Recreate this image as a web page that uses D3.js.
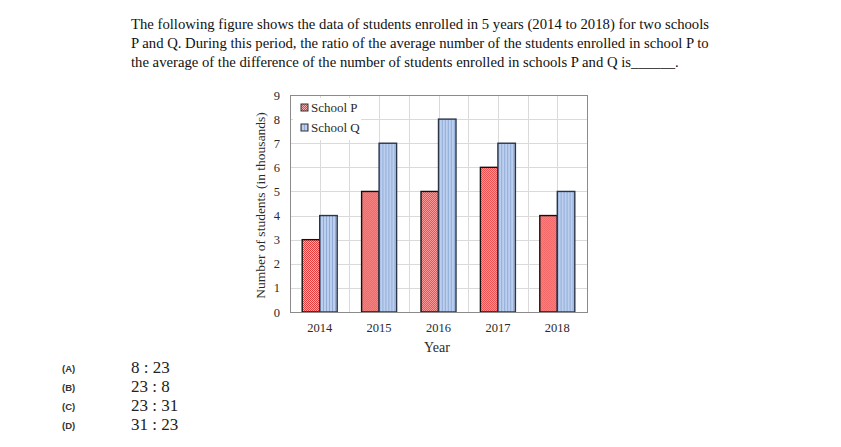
<!DOCTYPE html>
<html lang="en">
  <head>
    <meta charset="utf-8">
    <title>Students enrolled</title>
    <script type="text/javascript" src="https://cdn.jsdelivr.net/npm/d3@7"></script>
    <style>
      body { margin: 0; background: #fff; }
    </style>
  </head>
  <body>
    <script type="text/javascript">
    // data
    var years = ["2014", "2015", "2016", "2017", "2018"];
    var schoolP = [3, 5, 5, 6, 4];
    var schoolQ = [4, 7, 8, 7, 5];
    var yTicks = [0, 1, 2, 3, 4, 5, 6, 7, 8, 9];
    var seriesNames = ["School P", "School Q"];

    var questionLines = [
      "The following figure shows the data of students enrolled in 5 years (2014 to 2018) for two schools",
      "P and Q. During this period, the ratio of the average number of the students enrolled in school P to",
      "the average of the difference of the number of students enrolled in schools P and Q is______."
    ];
    var optionLetters = ["(A)", "(B)", "(C)", "(D)"];
    var optionTexts = ["8 : 23", "23 : 8", "23 : 31", "31 : 23"];

    var w = 841;
    var h = 447;

    var svg = d3.select("body")
                .append("svg")
                .attr("width", w)
                .attr("height", h);

    // fill patterns
    var defs = svg.append("defs");
    var pP = defs.append("pattern")
                 .attr("id", "patP")
                 .attr("patternUnits", "userSpaceOnUse")
                 .attr("width", 2).attr("height", 2);
    pP.append("rect").attr("width", 2).attr("height", 2).attr("fill", "#ffb0b0");
    pP.append("rect").attr("width", 1).attr("height", 1).attr("fill", "#e83a3a");
    pP.append("rect").attr("x", 1).attr("y", 1).attr("width", 1).attr("height", 1).attr("fill", "#e83a3a");

    var pQ = defs.append("pattern")
                 .attr("id", "patQ")
                 .attr("patternUnits", "userSpaceOnUse")
                 .attr("width", 3).attr("height", 3);
    pQ.append("rect").attr("width", 3).attr("height", 3).attr("fill", "#bccfee");
    pQ.append("rect").attr("width", 1).attr("height", 3).attr("fill", "#92acd8");

    // question text
    svg.selectAll("text.q")
       .data(questionLines)
       .enter()
       .append("text")
       .attr("class", "q")
       .attr("x", 131)
       .attr("y", function(d, i) { return 29 + i * 19; })
       .attr("font-family", "Liberation Serif, serif")
       .attr("font-size", 14.7)
       .attr("fill", "#111")
       .text(function(d) { return d; });

    // plot area
    var pLeft = 290, pRight = 587, pTop = 95, pBottom = 312;

    var x0 = d3.scaleBand()
               .domain(years)
               .range([pLeft, pRight])
               .padding(0);
    var x1 = d3.scaleBand()
               .domain(["P", "Q"])
               .range([12.2, 47.2]);
    var y = d3.scaleLinear()
              .domain([0, 9])
              .range([pBottom, pTop]);
    var xg = d3.scaleLinear()
               .domain([0, 10])
               .range([pLeft, pRight]);

    // gridlines
    svg.selectAll("line.hg")
       .data(yTicks)
       .enter()
       .append("line")
       .attr("class", "hg")
       .attr("x1", pLeft).attr("x2", pRight)
       .attr("y1", function(d) { return Math.round(y(d)) + 0.5; })
       .attr("y2", function(d) { return Math.round(y(d)) + 0.5; })
       .attr("stroke", "#dadada");
    svg.selectAll("line.vg")
       .data(d3.range(11))
       .enter()
       .append("line")
       .attr("class", "vg")
       .attr("y1", pTop).attr("y2", pBottom)
       .attr("x1", function(d) { return Math.round(xg(d)) + 0.5; })
       .attr("x2", function(d) { return Math.round(xg(d)) + 0.5; })
       .attr("stroke", "#dadada");

    // legend background covers grid
    svg.append("rect")
       .attr("x", pLeft + 3).attr("y", pTop + 3)
       .attr("width", 68).attr("height", 42)
       .attr("fill", "#fff");

    // bars
    var rows = years.map(function(yr, i) {
      return { year: yr, P: schoolP[i], Q: schoolQ[i] };
    });
    var groups = svg.selectAll("g.yr")
                    .data(rows)
                    .enter()
                    .append("g")
                    .attr("class", "yr")
                    .attr("transform", function(d) { return "translate(" + x0(d.year) + ",0)"; });
    groups.selectAll("rect")
          .data(function(d) { return [{ k: "P", v: d.P }, { k: "Q", v: d.Q }]; })
          .enter()
          .append("rect")
          .attr("x", function(d) { return x1(d.k); })
          .attr("y", function(d) { return y(d.v); })
          .attr("width", x1.bandwidth())
          .attr("height", function(d) { return pBottom - y(d.v); })
          .attr("fill", function(d) { return d.k === "P" ? "url(#patP)" : "url(#patQ)"; })
          .attr("stroke", function(d) { return d.k === "P" ? "#111" : "#2a3548"; })
          .attr("stroke-width", 1.4);

    // plot border
    svg.append("rect")
       .attr("x", pLeft + 0.5).attr("y", pTop + 0.5)
       .attr("width", pRight - pLeft).attr("height", pBottom - pTop)
       .attr("fill", "none")
       .attr("stroke", "#8a8a8a");

    // axes (labels only)
    var yAxis = d3.axisLeft(y).tickValues(yTicks).tickSize(0).tickPadding(10);
    var gy = svg.append("g").attr("transform", "translate(" + pLeft + ",0)").call(yAxis);
    var xAxis = d3.axisBottom(x0).tickSize(0).tickPadding(11);
    var gx = svg.append("g").attr("transform", "translate(0," + pBottom + ")").call(xAxis);
    [gx, gy].forEach(function(g) {
      g.select(".domain").remove();
      g.selectAll("text")
       .attr("font-family", "Liberation Serif, serif")
       .attr("font-size", 12.5)
       .attr("fill", "#2a2a2a");
    });

    svg.append("text")
       .attr("x", 437).attr("y", 352)
       .attr("text-anchor", "middle")
       .attr("font-family", "Liberation Serif, serif")
       .attr("font-size", 14)
       .attr("fill", "#2a2a2a")
       .text("Year");

    svg.append("text")
       .attr("transform", "translate(265," + ((pTop + pBottom) / 2 + 2) + ") rotate(-90)")
       .attr("text-anchor", "middle")
       .attr("font-family", "Liberation Serif, serif")
       .attr("font-size", 13.5)
       .attr("fill", "#2a2a2a")
       .text("Number of students (in thousands)");

    // legend
    var legend = svg.selectAll("g.lg")
                    .data(seriesNames)
                    .enter()
                    .append("g")
                    .attr("class", "lg")
                    .attr("transform", function(d, i) { return "translate(" + (pLeft + 11) + "," + (pTop + 9 + i * 20) + ")"; });
    legend.append("rect")
          .attr("width", 7).attr("height", 7)
          .attr("fill", function(d, i) { return i === 0 ? "url(#patP)" : "url(#patQ)"; })
          .attr("stroke", "#333");
    legend.append("text")
          .attr("x", 10).attr("y", 8)
          .attr("font-family", "Liberation Serif, serif")
          .attr("font-size", 13)
          .attr("fill", "#2a2a2a")
          .text(function(d) { return d; });

    // answer options
    svg.selectAll("text.ol")
       .data(optionLetters)
       .enter()
       .append("text")
       .attr("class", "ol")
       .attr("x", 62)
       .attr("y", function(d, i) { return 372 + i * 19; })
       .attr("font-family", "Liberation Sans, sans-serif")
       .attr("font-size", 9.5)
       .attr("font-weight", "bold")
       .attr("fill", "#333")
       .text(function(d) { return d; });
    svg.selectAll("text.ot")
       .data(optionTexts)
       .enter()
       .append("text")
       .attr("class", "ot")
       .attr("x", 131)
       .attr("y", function(d, i) { return 373 + i * 19; })
       .attr("font-family", "Liberation Serif, serif")
       .attr("font-size", 17)
       .attr("fill", "#222")
       .text(function(d) { return d; });
    </script>
  </body>
</html>
